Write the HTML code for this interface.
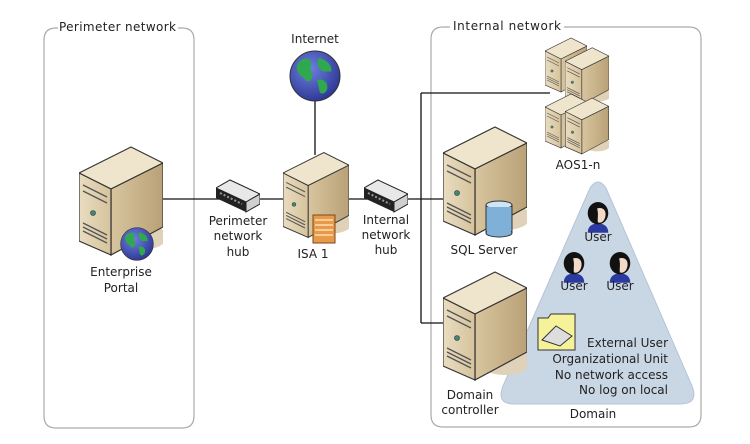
<!DOCTYPE html>
<html><head><meta charset="utf-8"><style>
html,body{margin:0;padding:0;background:#fff;}
svg{display:block;}
text{font-family:"DejaVu Sans","Liberation Sans",sans-serif;font-size:12px;fill:#222;}
</style></head><body>
<svg width="750" height="444" viewBox="0 0 750 444" xmlns="http://www.w3.org/2000/svg">
<defs>
<linearGradient id="fr" x1="0" x2="1"><stop offset="0" stop-color="#e9dcc0"/><stop offset="1" stop-color="#d6c39c"/></linearGradient>
<linearGradient id="sd" x1="0" x2="1"><stop offset="0" stop-color="#d8c59e"/><stop offset="1" stop-color="#b9a177"/></linearGradient>
<radialGradient id="gl" cx="0.4" cy="0.35" r="0.7"><stop offset="0" stop-color="#6f7fe0"/><stop offset="1" stop-color="#2a3590"/></radialGradient>
<symbol id="srv" viewBox="0 0 84 112">
 <ellipse cx="62" cy="92" rx="26" ry="13" fill="#e0d2b8"/>
 <polygon points="0,28 52,2 84,18 32,44" fill="#efe4cc" stroke="#333" stroke-width="1.2"/>
 <polygon points="32,44 84,18 84,82 32,110" fill="url(#sd)" stroke="#333" stroke-width="1.2"/>
 <polygon points="0,28 32,44 32,110 0,96" fill="url(#fr)" stroke="#333" stroke-width="1.2"/>
 <path d="M4,40 L28,52 M4,46 L28,58 M4,78 L28,90 M4,82 L28,94 M4,86 L28,98" stroke="#555" stroke-width="1.3"/>
 <circle cx="14" cy="68" r="2.5" fill="#3a8a7a" stroke="#333" stroke-width="0.6"/>
</symbol>
<symbol id="hub" viewBox="0 0 44 36">
 <polygon points="0,10 14,2 44,16 30,24" fill="#e8e8e8" stroke="#222" stroke-width="1"/>
 <polygon points="0,10 30,24 30,34 0,20" fill="#222"/>
 <polygon points="30,24 44,16 44,26 30,34" fill="#cfcfcf" stroke="#222" stroke-width="1"/>
 <path d="M4,15 L26,26" stroke="#999" stroke-width="2" stroke-dasharray="2,2"/>
</symbol>
<symbol id="globe" viewBox="0 0 52 52">
 <circle cx="26" cy="26" r="25" fill="url(#gl)" stroke="#333" stroke-width="1"/>
 <path d="M10,12 C16,6 24,8 22,16 C20,22 26,24 22,30 C18,34 16,28 12,26 C8,22 6,16 10,12Z M30,8 C38,10 44,16 42,22 C38,20 34,24 30,18 C28,14 28,10 30,8Z M28,30 C34,28 40,32 38,40 C34,46 30,44 30,38 Z" fill="#2fa84f"/>
</symbol>
<symbol id="user" viewBox="0 0 30 36">
 <path d="M4,36 C4,28 10,26 15,26 C20,26 26,28 26,36Z" fill="#2a3aa0"/>
 <ellipse cx="15" cy="15" rx="11" ry="12" fill="#111"/>
 <path d="M14,10 C20,8 24,12 23,18 C22,24 18,26 15,25 C14,22 16,16 14,10Z" fill="#f3d9c8"/>
</symbol>
</defs>

<path d="M58,28 H56 Q44,28 44,40 V416 Q44,428 56,428 H182 Q194,428 194,416 V40 Q194,28 182,28 H178" fill="none" stroke="#aaa" stroke-width="1.2"/>
<text x="59" y="31" textLength="117">Perimeter network</text>
<path d="M450,27 H443 Q431,27 431,39 V415 Q431,427 443,427 H689 Q701,427 701,415 V39 Q701,27 689,27 H564" fill="none" stroke="#aaa" stroke-width="1.2"/>
<text x="453" y="30" textLength="108">Internal network</text>

<g stroke="#111" stroke-width="1.3" fill="none">
<path d="M160,199 H285"/><path d="M345,199 H421"/>
<path d="M315,100 V155"/>
<path d="M421,93 V323"/>
<path d="M421,93 H550"/><path d="M421,199 H445"/><path d="M421,323 H445"/>
</g>

<path d="M590,188 Q598,176 606,188 L692,386 Q699,404 680,404 H514 Q496,404 503,386 Z" fill="#c9d6e4" stroke="#b5c4d6"/>

<text x="315" y="43" text-anchor="middle">Internet</text>
<use href="#globe" x="289" y="50" width="52" height="52"/>

<use href="#srv" x="79" y="145" width="84" height="112"/>
<use href="#globe" x="120" y="227" width="34" height="34"/>
<text x="121" y="276" text-anchor="middle">Enterprise</text>
<text x="121" y="292" text-anchor="middle">Portal</text>

<use href="#hub" x="216" y="178" width="44" height="36"/>
<text x="238" y="225" text-anchor="middle">Perimeter</text>
<text x="238" y="240" text-anchor="middle">network</text>
<text x="238" y="256" text-anchor="middle">hub</text>
<use href="#hub" x="364" y="178" width="44" height="36"/>
<text x="386" y="224" text-anchor="middle">Internal</text>
<text x="386" y="239" text-anchor="middle">network</text>
<text x="386" y="254" text-anchor="middle">hub</text>

<use href="#srv" x="283" y="150" width="66" height="90"/>
<rect x="313" y="215" width="22" height="28" fill="#e89a4a" stroke="#7a4a1a"/>
<path d="M315,220 H333 M315,225 H333 M315,230 H333 M315,235 H333" stroke="#fbe0b0" stroke-width="1.5"/>
<text x="313" y="258" text-anchor="middle">ISA 1</text>

<use href="#srv" x="545" y="35" width="42" height="60"/>
<use href="#srv" x="565" y="45" width="44" height="62"/>
<use href="#srv" x="545" y="92" width="42" height="58"/>
<use href="#srv" x="565" y="97" width="44" height="58"/>
<text x="578" y="169" text-anchor="middle">AOS1-n</text>

<use href="#srv" x="443" y="125" width="84" height="112"/>
<rect x="486" y="205" width="26" height="28" fill="#7fb0d8" stroke="#333"/>
<ellipse cx="499" cy="233" rx="13" ry="4" fill="#7fb0d8" stroke="#333"/>
<ellipse cx="499" cy="205" rx="13" ry="4" fill="#cfe4f4" stroke="#333"/>
<rect x="487" y="207" width="24" height="26" fill="#7fb0d8"/>
<text x="484" y="254" text-anchor="middle">SQL Server</text>

<use href="#srv" x="443" y="270" width="84" height="112"/>
<text x="470" y="399" text-anchor="middle">Domain</text>
<text x="470" y="414" text-anchor="middle">controller</text>

<use href="#user" x="584" y="199" width="28" height="34"/>
<text x="598" y="241" text-anchor="middle">User</text>
<use href="#user" x="560" y="249" width="28" height="34"/>
<text x="574" y="290" text-anchor="middle">User</text>
<use href="#user" x="606" y="249" width="28" height="34"/>
<text x="620" y="290" text-anchor="middle">User</text>

<path d="M538,318 H548 L551,314 H575 V350 H538 Z" fill="#f6f29a" stroke="#333"/>
<path d="M542,340 L556,326 L572,336 L560,346 Z" fill="#ddd" stroke="#333"/>
<text x="668" y="347" text-anchor="end">External User</text>
<text x="668" y="363" text-anchor="end">Organizational Unit</text>
<text x="668" y="379" text-anchor="end">No network access</text>
<text x="668" y="394" text-anchor="end">No log on local</text>
<text x="593" y="418" text-anchor="middle">Domain</text>
</svg>
</body></html>
